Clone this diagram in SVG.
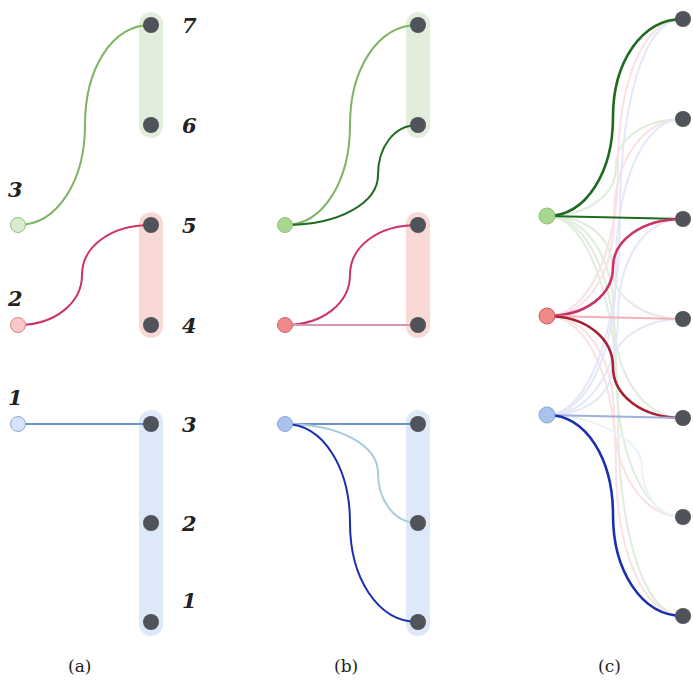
<svg xmlns="http://www.w3.org/2000/svg" width="693" height="693" viewBox="0 0 693 693">
<style>
.lbl{font-family:"DejaVu Serif","Liberation Serif",serif;font-weight:bold;font-style:italic;font-size:21px;fill:#222}
.cap{font-family:"DejaVu Serif","Liberation Serif",serif;font-size:17px;fill:#222}
.e{fill:none;stroke-width:2}
.t{fill:none;stroke-width:2.6}
.f{fill:none;stroke-width:2;opacity:0.18}
.r{fill:#50535a}
</style>
<rect width="693" height="693" fill="#fff"/>
<g id="bands">
<rect x="139" y="12" width="24" height="126" rx="12" fill="#e1eedc"/>
<rect x="139" y="212" width="24" height="126" rx="12" fill="#f8d9d6"/>
<rect x="139" y="410" width="24" height="226" rx="12" fill="#dde9f9"/>
<rect x="406" y="12" width="24" height="126" rx="12" fill="#e1eedc"/>
<rect x="406" y="212" width="24" height="126" rx="12" fill="#f8d9d6"/>
<rect x="406" y="410" width="24" height="226" rx="12" fill="#dde9f9"/>
</g>
<g id="connectors">
<path class="e" stroke="#7fb464" d="M18,225 C58,225 85,180 85,125 C85,70 111,25 151,25"/>
<path class="e" stroke="#cc3366" d="M18,325 C56,325 82,302 82,275 C82,247 110,225 151,225"/>
<path class="e" stroke="#6f8fcf" d="M18,424 L151,424"/>
<path class="e" stroke="#7fb464" d="M285,225 C324,225 350,180 350,125 C350,70 377,25 418,25"/>
<path class="e" stroke="#1f6a1f" d="M285,225 C341,225 378,202 378,175 C378,147 394,125 418,125"/>
<path class="e" stroke="#cc3366" d="M285,325 C324,325 350,302 350,275 C350,247 377,225 418,225"/>
<path class="e" stroke="#d895b5" d="M285,325 L418,325"/>
<path class="e" stroke="#6f8fcf" d="M285,424 L418,424"/>
<path class="e" stroke="#a8cbe0" d="M285,424 C341,424 378,446 378,473 C378,500 394,523 418,523"/>
<path class="e" stroke="#1a2fb0" d="M285,424 C324,424 350,469 350,523 C350,577 377,622 418,622"/>
<g class="f">
<path stroke="#5a9e4a" d="M547,216 C589,216 616,194 616,167 C616,140 642,119 683,119"/>
<path stroke="#5a9e4a" d="M547,216 C589,216 612,239 612,267 C612,296 642,319 683,319"/>
<path stroke="#5a9e4a" d="M547,216 C589,216 614,261 614,317 C614,372 642,418 683,418"/>
<path stroke="#5a9e4a" d="M547,216 C589,216 616,283 616,366 C616,449 642,517 683,517"/>
<path stroke="#5a9e4a" d="M547,216 C589,216 618,306 618,416 C618,526 642,616 683,616"/>
<path stroke="#e06070" d="M547,316 C589,316 618,249 618,167 C618,85 642,19 683,19"/>
<path stroke="#e06070" d="M547,316 C589,316 614,271 614,217 C614,163 642,119 683,119"/>
<path stroke="#e06070" d="M547,316 C589,316 614,361 614,416 C614,471 642,517 683,517"/>
<path stroke="#e06070" d="M547,316 C589,316 616,383 616,466 C616,548 642,616 683,616"/>
<path stroke="#6f80d8" d="M547,415 C589,415 620,326 620,217 C620,109 642,19 683,19"/>
<path stroke="#6f80d8" d="M547,415 C589,415 616,348 616,267 C616,186 642,119 683,119"/>
<path stroke="#6f80d8" d="M547,415 C589,415 618,371 618,317 C618,263 642,219 683,219"/>
<path stroke="#6f80d8" d="M547,415 C589,415 612,393 612,367 C612,341 642,319 683,319"/>
<path stroke="#8fc0d8" d="M547,415 C590,415 642,438 642,466 C642,494 658,517 683,517"/>
</g>
<path class="t" stroke="#1f6a1f" d="M547,216 C587,216 613,171 613,117 C613,63 641,19 683,19"/>
<path class="e" stroke="#1f6a1f" d="M547,216 L683,219"/>
<path class="t" stroke="#cc3366" d="M547,316 C587,316 613,294 613,267 C613,241 641,219 683,219"/>
<path class="e" stroke="#f5b0b8" d="M547,316 L683,319"/>
<path class="t" stroke="#a52030" d="M547,316 C587,316 613,339 613,367 C613,395 641,418 683,418"/>
<path class="e" stroke="#9fb0d8" d="M547,415 L683,418"/>
<path class="t" stroke="#1a2fb0" d="M547,415 C587,415 613,460 613,515 C613,570 641,616 683,616"/>
</g>
<g id="left-nodes">
<circle cx="18" cy="225" r="7.5" fill="#d9ecd2" stroke="#8fc07a"/>
<circle cx="18" cy="325" r="7.5" fill="#f8c8c8" stroke="#e08080"/>
<circle cx="18" cy="424" r="7.5" fill="#d6e4f8" stroke="#88a8d8"/>
<circle cx="285" cy="225" r="7.5" fill="#a8d890" stroke="#8fc07a"/>
<circle cx="285" cy="325" r="7.5" fill="#ee8a8a" stroke="#d06060"/>
<circle cx="285" cy="424" r="7.5" fill="#a8c4ee" stroke="#88a8d8"/>
<circle cx="547" cy="216" r="8" fill="#a8d890" stroke="#8fc07a"/>
<circle cx="547" cy="316" r="8" fill="#ee8a8a" stroke="#d06060"/>
<circle cx="547" cy="415" r="8" fill="#a8c4ee" stroke="#88a8d8"/>
</g>
<g id="right-nodes" class="r">
<circle cx="151" cy="25" r="8"/><circle cx="151" cy="125" r="8"/><circle cx="151" cy="225" r="8"/><circle cx="151" cy="325" r="8"/><circle cx="151" cy="424" r="8"/><circle cx="151" cy="523" r="8"/><circle cx="151" cy="622" r="8"/>
<circle cx="418" cy="25" r="8"/><circle cx="418" cy="125" r="8"/><circle cx="418" cy="225" r="8"/><circle cx="418" cy="325" r="8"/><circle cx="418" cy="424" r="8"/><circle cx="418" cy="523" r="8"/><circle cx="418" cy="622" r="8"/>
<circle cx="683" cy="19" r="8"/><circle cx="683" cy="119" r="8"/><circle cx="683" cy="219" r="8"/><circle cx="683" cy="319" r="8"/><circle cx="683" cy="418" r="8"/><circle cx="683" cy="517" r="8"/><circle cx="683" cy="616" r="8"/>
</g>
<g id="labels">
<text class="lbl" x="8" y="197">3</text>
<text class="lbl" x="8" y="306">2</text>
<text class="lbl" x="8" y="405">1</text>
<text class="lbl" x="182" y="33">7</text>
<text class="lbl" x="182" y="133">6</text>
<text class="lbl" x="182" y="233">5</text>
<text class="lbl" x="182" y="333">4</text>
<text class="lbl" x="182" y="432">3</text>
<text class="lbl" x="182" y="531">2</text>
<text class="lbl" x="182" y="608">1</text>
<text class="cap" x="68" y="672">(a)</text>
<text class="cap" x="334" y="672">(b)</text>
<text class="cap" x="598" y="672">(c)</text>
</g>
</svg>
